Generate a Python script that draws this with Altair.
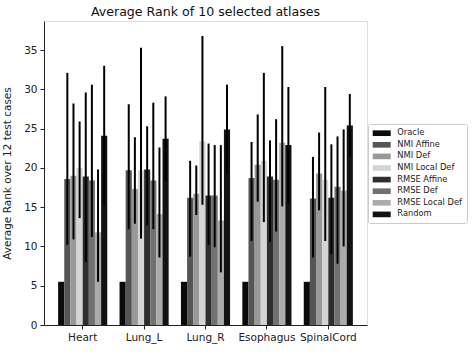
import altair as alt
import pandas as pd

categories = ["Heart", "Lung_L", "Lung_R", "Esophagus", "SpinalCord"]
series = ["Oracle", "NMI Affine", "NMI Def", "NMI Local Def",
          "RMSE Affine", "RMSE Def", "RMSE Local Def", "Random"]
colors = ["#0a0a0a", "#555555", "#999999", "#d4d4d4",
          "#2e2e2e", "#717171", "#ababab", "#121212"]

mean_vals = {
    "Oracle":         [5.5, 5.5, 5.5, 5.5, 5.5],
    "NMI Affine":     [18.6, 19.7, 16.2, 18.7, 16.1],
    "NMI Def":        [19.0, 17.3, 16.7, 20.4, 19.3],
    "NMI Local Def":  [20.0, 19.7, 23.4, 20.9, 18.5],
    "RMSE Affine":    [18.9, 19.8, 16.5, 18.9, 16.2],
    "RMSE Def":       [18.4, 18.4, 16.5, 18.5, 17.6],
    "RMSE Local Def": [11.8, 14.1, 13.3, 23.2, 17.1],
    "Random":         [24.1, 23.7, 24.9, 22.9, 25.4],
}
upper_vals = {
    "Oracle":         [5.5, 5.5, 5.5, 5.5, 5.5],
    "NMI Affine":     [32.1, 28.1, 20.9, 23.3, 21.4],
    "NMI Def":        [28.2, 23.9, 20.3, 26.8, 24.5],
    "NMI Local Def":  [25.9, 35.3, 36.8, 32.1, 30.3],
    "RMSE Affine":    [29.6, 25.3, 23.1, 23.5, 23.0],
    "RMSE Def":       [30.6, 28.3, 22.9, 26.2, 24.0],
    "RMSE Local Def": [19.8, 22.6, 22.9, 35.5, 24.9],
    "Random":         [33.0, 29.1, 30.6, 30.3, 29.4],
}
lower_vals = {
    "Oracle":         [5.5, 5.5, 5.5, 5.5, 5.5],
    "NMI Affine":     [10.2, 12.2, 8.7, 10.7, 8.6],
    "NMI Def":        [10.9, 12.9, 14.0, 15.7, 14.6],
    "NMI Local Def":  [13.6, 11.0, 15.3, 13.1, 10.7],
    "RMSE Affine":    [8.0, 12.7, 10.2, 10.6, 9.0],
    "RMSE Def":       [11.2, 12.2, 9.9, 11.9, 7.8],
    "RMSE Local Def": [5.5, 8.6, 6.7, 15.1, 10.0],
    "Random":         [15.2, 18.3, 19.2, 15.5, 21.4],
}
y_ticks = [0, 5, 10, 15, 20, 25, 30, 35]

rows = []
for s in series:
    for i, c in enumerate(categories):
        rows.append({"organ": c, "method": s, "mean": mean_vals[s][i],
                     "lo": lower_vals[s][i], "hi": upper_vals[s][i]})
df = pd.DataFrame(rows)

font = "DejaVu Sans"
x_enc = alt.X("organ:N", sort=categories, title=None,
              scale=alt.Scale(paddingInner=0.2, paddingOuter=0.23),
              axis=alt.Axis(labelAngle=0, labelFontSize=10.5, labelColor="#222",
                            tickColor="#222", domainColor="#222", tickSize=4,
                            labelPadding=3, labelFont=font))
xoff = alt.XOffset("method:N", sort=series,
                   scale=alt.Scale(paddingInner=0, paddingOuter=0))
y_scale = alt.Scale(domain=[0, 38.7], nice=False)

bars = alt.Chart(df).mark_bar(strokeWidth=0).encode(
    x=x_enc,
    xOffset=xoff,
    y=alt.Y("mean:Q", scale=y_scale, title="Average Rank over 12 test cases",
            axis=alt.Axis(values=y_ticks, grid=False, labelFontSize=10.5,
                          labelColor="#222", tickColor="#222", domainColor="#222",
                          tickSize=4, labelPadding=3, titleFontWeight="normal",
                          titleFontSize=10.5, titleColor="#222", titlePadding=11,
                          labelFont=font, titleFont=font)),
    color=alt.Color("method:N", sort=series,
                    scale=alt.Scale(domain=series, range=colors),
                    legend=alt.Legend(title=None, orient="none", legendX=324, legendY=103,
                                      strokeColor="#cccccc", padding=4.7, cornerRadius=2,
                                      labelFontSize=8.3, labelFont=font, labelColor="#222",
                                      symbolType="M-1,-0.63H3V0.63H-1Z", symbolSize=81,
                                      symbolStrokeWidth=0, rowPadding=2.6, labelOffset=15.6,
                                      fillColor="white")),
)

errs = alt.Chart(df).mark_rule(color="black", strokeWidth=2).encode(
    x=x_enc,
    xOffset=xoff,
    y=alt.Y("lo:Q", scale=y_scale),
    y2="hi:Q",
)

chart = alt.layer(bars, errs).properties(
    width=323, height=304,
    title=alt.Title("Average Rank of 10 selected atlases", fontSize=12.6,
                    fontWeight="normal", font=font, color="#111", offset=2),
    autosize=alt.AutoSizeParams(type="none"),
    padding={"left": 44, "top": 21, "right": 107, "bottom": 28},
).configure_view(stroke="#222", strokeWidth=1).configure(background="white")

chart.save("out.html", embed_options={"renderer": "svg", "actions": False})
